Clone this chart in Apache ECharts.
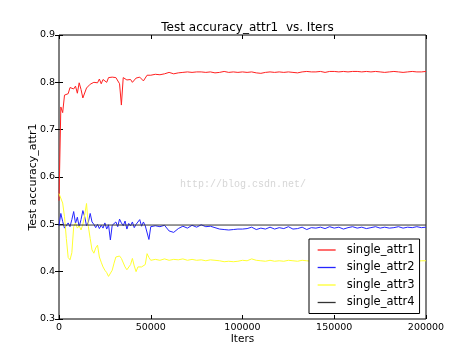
<!DOCTYPE html>
<html>
<head>
<meta charset="utf-8">
<script src="https://cdn.jsdelivr.net/npm/echarts@6/dist/echarts.min.js"></script>
<style>
html,body{margin:0;padding:0;background:#fff;}
#c{width:474px;height:355px;}
</style>
</head>
<body>
<div id="c"></div>
<script>
var iters = [0,1000,2000,3000,4000,5000,6000,7000,8000,9000,
  10000,11000,12000,13000,14000,15000,16000,17000,18000,19000,
  20000,21000,22000,23000,24000,25000,26000,27000,28000,29000,
  30000,31000,32000,33000,34000,35000,36000,37000,38000,39000,
  40000,41000,42000,43000,44000,45000,46000,47000,48000,49000,50000,
  52500,55000,57500,60000,62500,65000,67500,70000,72500,75000,
  77500,80000,82500,85000,87500,90000,92500,95000,97500,100000,
  102500,105000,107500,110000,112500,115000,117500,120000,122500,125000,
  127500,130000,132500,135000,137500,140000,142500,145000,147500,150000,
  152500,155000,157500,160000,162500,165000,167500,170000,172500,175000,
  177500,180000,182500,185000,187500,190000,192500,195000,197500,200000];

var attr1 = [0.55,0.748,0.736,0.773,0.775,0.776,0.789,0.79,0.786,0.792,
  0.777,0.799,0.785,0.767,0.768,0.788,0.791,0.796,0.795,0.8,
  0.803,0.799,0.807,0.797,0.806,0.808,0.8,0.81,0.807,0.811,
  0.808,0.81,0.811,0.797,0.752,0.81,0.808,0.805,0.807,0.806,
  0.8,0.804,0.809,0.812,0.811,0.813,0.803,0.806,0.815,0.818,0.815,
  0.817,0.816,0.818,0.821,0.818,0.82,0.821,0.822,0.821,0.822,
  0.822,0.821,0.822,0.82,0.821,0.823,0.821,0.822,0.821,0.822,
  0.821,0.822,0.82,0.819,0.821,0.822,0.821,0.822,0.821,0.822,
  0.821,0.82,0.822,0.823,0.822,0.822,0.823,0.821,0.823,0.823,
  0.822,0.823,0.822,0.823,0.823,0.822,0.823,0.822,0.823,0.822,
  0.821,0.822,0.823,0.822,0.821,0.822,0.823,0.822,0.822,0.823];

var attr2 = [0.497,0.523,0.506,0.492,0.49,0.503,0.495,0.51,0.527,0.502,
  0.515,0.495,0.51,0.529,0.516,0.497,0.505,0.523,0.505,0.5,
  0.493,0.5,0.491,0.498,0.492,0.503,0.49,0.499,0.467,0.498,
  0.497,0.505,0.495,0.511,0.503,0.497,0.507,0.49,0.502,0.497,
  0.505,0.493,0.5,0.497,0.51,0.496,0.505,0.497,0.5,0.468,0.495,
  0.497,0.495,0.498,0.486,0.483,0.491,0.496,0.492,0.498,0.494,
  0.499,0.495,0.496,0.493,0.49,0.489,0.488,0.489,0.49,0.49,
  0.491,0.494,0.489,0.492,0.49,0.494,0.49,0.493,0.491,0.495,
  0.49,0.491,0.494,0.489,0.493,0.492,0.494,0.491,0.495,0.492,
  0.494,0.49,0.493,0.495,0.492,0.494,0.491,0.493,0.495,0.492,
  0.494,0.492,0.493,0.495,0.492,0.494,0.493,0.495,0.493,0.494];

var attr3 = [0.565,0.568,0.545,0.516,0.47,0.43,0.425,0.44,0.495,0.503,
  0.492,0.497,0.488,0.5,0.52,0.544,0.495,0.47,0.446,0.439,
  0.45,0.456,0.431,0.42,0.41,0.403,0.398,0.39,0.386,0.403,
  0.418,0.431,0.435,0.433,0.428,0.43,0.41,0.404,0.403,0.415,
  0.428,0.412,0.4,0.41,0.414,0.41,0.413,0.415,0.438,0.43,0.424,
  0.426,0.424,0.427,0.424,0.426,0.425,0.427,0.424,0.426,0.424,
  0.425,0.423,0.425,0.424,0.423,0.421,0.422,0.421,0.422,0.424,
  0.423,0.427,0.424,0.423,0.422,0.424,0.422,0.423,0.422,0.424,
  0.423,0.422,0.424,0.423,0.422,0.423,0.422,0.423,0.424,0.422,
  0.423,0.422,0.424,0.423,0.422,0.423,0.424,0.422,0.423,0.422,
  0.423,0.424,0.422,0.423,0.422,0.424,0.423,0.422,0.423,0.423];

var attr4Iters = [0, 200000];
var attr4 = [0.4985, 0.4985];

var seriesNames = ['single_attr1','single_attr2','single_attr3','single_attr4'];
var xTicks = [0, 50000, 100000, 150000, 200000];
var yTicks = [0.3, 0.4, 0.5, 0.6, 0.7, 0.8, 0.9];

function pairs(xs, ys){ return ys.map(function(v,i){ return [xs[i], v]; }); }

var font = 'DejaVu Sans';
var chart = echarts.init(document.getElementById('c'), null, {renderer:'canvas'});
var tickLab = {color:'#000', fontFamily:font, fontSize:9.5};
function mkSeries(name, xs, ys, color){
  return {name:name, type:'line', data:pairs(xs, ys), symbol:'none', showSymbol:false,
    lineStyle:{color:color, width:1}, itemStyle:{color:color}, animation:false, z:3};
}
chart.setOption({
  animation:false,
  backgroundColor:'#fff',
  title:{text:'Test accuracy_attr1  vs. Iters', left:242.5, textAlign:'center', top:17,
    textStyle:{fontFamily:font, fontSize:12, fontWeight:'normal', color:'#000'}},
  grid:{left:59, right:48, top:35, bottom:36, show:true, borderColor:'#000', borderWidth:1, backgroundColor:'#fff'},
  legend:{orient:'vertical', left:309, top:239, z:10,
    backgroundColor:'#fff', borderColor:'#000', borderWidth:1, borderRadius:0,
    padding:[5,5,5,8], itemGap:5.5, itemWidth:18, itemHeight:10,
    itemStyle:{opacity:0},
    lineStyle:{width:1.3},
    textStyle:{fontFamily:font, fontSize:11.5, color:'#000', padding:[0,0,0,6]},
    data:seriesNames},
  xAxis:[{type:'value', min:xTicks[0], max:xTicks[xTicks.length-1], interval:50000,
      name:'Iters', nameLocation:'middle', nameGap:15, nameMoveOverlap:false,
      nameTextStyle:{fontFamily:font, fontSize:10.5, color:'#000'},
      axisLine:{show:false}, axisTick:{show:true, inside:true, length:4, lineStyle:{color:'#000'}},
      splitLine:{show:false},
      axisLabel:Object.assign({margin:4, formatter:function(v){return String(v);}}, tickLab)},
    {type:'value', position:'top', min:xTicks[0], max:xTicks[xTicks.length-1], interval:50000,
      axisLine:{show:false}, axisTick:{show:true, inside:true, length:4, lineStyle:{color:'#000'}},
      splitLine:{show:false}, axisLabel:{show:false}}],
  yAxis:[{type:'value', min:yTicks[0], max:yTicks[yTicks.length-1], interval:0.1,
      name:'Test accuracy_attr1', nameLocation:'middle', nameGap:20, nameMoveOverlap:false,
      nameTextStyle:{fontFamily:font, fontSize:11, color:'#000'},
      axisLine:{show:false}, axisTick:{show:true, inside:true, length:4, lineStyle:{color:'#000'}},
      splitLine:{show:false},
      axisLabel:Object.assign({margin:4, formatter:function(v){return v.toFixed(1);}}, tickLab)},
    {type:'value', position:'right', min:yTicks[0], max:yTicks[yTicks.length-1], interval:0.1,
      axisLine:{show:false}, axisTick:{show:true, inside:true, length:4, lineStyle:{color:'#000'}},
      splitLine:{show:false}, axisLabel:{show:false}}],
  graphic:[{type:'text', left:180, top:179, z:1, silent:true,
    style:{text:'http://blog.csdn.net/', font:'10px "Liberation Mono"', fill:'#d6d6d6'}}],
  series:[
    mkSeries(seriesNames[0], iters, attr1, '#ff2020'),
    mkSeries(seriesNames[1], iters, attr2, '#2525ff'),
    mkSeries(seriesNames[2], iters, attr3, '#ffff30'),
    mkSeries(seriesNames[3], attr4Iters, attr4, '#333333')
  ]
});
</script>
</body>
</html>
